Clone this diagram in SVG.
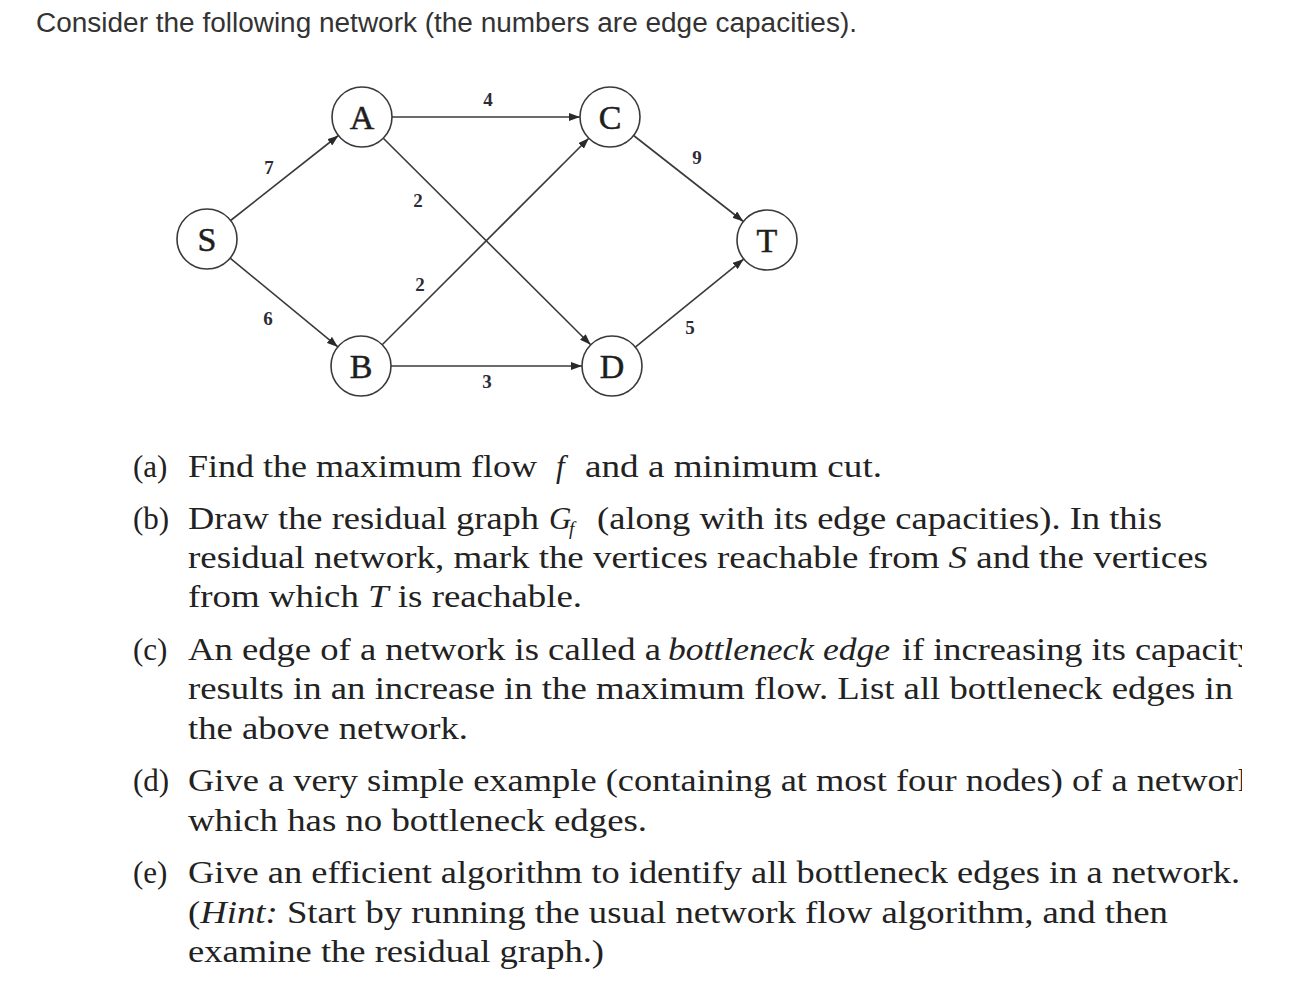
<svg xmlns="http://www.w3.org/2000/svg" width="1294" height="1008" viewBox="0 0 1294 1008">
<style>
.node ellipse{fill:#fff;stroke:#3a3a3a;stroke-width:1.6}
.node text{font-family:"Liberation Serif",serif;font-size:34px;fill:#1e1e1e;stroke:#1e1e1e;stroke-width:0.5;text-anchor:middle}
.edge{stroke:#3a3a3a;stroke-width:1.6;fill:none;marker-end:url(#arr)}
.lbl{font-family:"Liberation Serif",serif;font-weight:bold;font-size:19px;fill:#2c2c38;text-anchor:middle}
.body{font-family:"Liberation Serif",serif;font-size:31px;fill:#222}
.it{font-style:italic}
.head{font-family:"Liberation Sans",Arial,sans-serif;font-size:27px;fill:#333}
</style>
<defs>
<marker id="arr" markerUnits="userSpaceOnUse" markerWidth="11" markerHeight="8" refX="11" refY="4" orient="auto">
<path d="M0,0 L11,4 L0,8 z" fill="#2a2a2a"/>
</marker>
<clipPath id="cut"><rect x="0" y="0" width="1242" height="1008"/></clipPath>
</defs>
<rect width="1294" height="1008" fill="#fff"/>

<text class="head" x="36" y="32" textLength="821" lengthAdjust="spacingAndGlyphs">Consider the following network (the numbers are edge capacities).</text>

<g id="connectors">
<line class="edge" x1="230.6" y1="220.5" x2="338.4" y2="135.5"/>
<line class="edge" x1="230.1" y1="258.1" x2="337.9" y2="346.9"/>
<line class="edge" x1="392" y1="117" x2="580" y2="117"/>
<line class="edge" x1="391" y1="366" x2="582" y2="366"/>
<line class="edge" x1="383.3" y1="138.2" x2="590.7" y2="344.8"/>
<line class="edge" x1="382.2" y1="344.8" x2="588.8" y2="138.2"/>
<line class="edge" x1="633.6" y1="135.5" x2="743.4" y2="221.5"/>
<line class="edge" x1="635.3" y1="347.1" x2="743.7" y2="259.1"/>
<text class="lbl" x="269" y="174">7</text>
<text class="lbl" x="268" y="325">6</text>
<text class="lbl" x="488" y="106">4</text>
<text class="lbl" x="418" y="207">2</text>
<text class="lbl" x="420" y="291">2</text>
<text class="lbl" x="697" y="164">9</text>
<text class="lbl" x="690" y="334">5</text>
<text class="lbl" x="487" y="388">3</text>
</g>

<g id="node-S" class="node"><ellipse cx="207" cy="239" rx="30" ry="30"/><text x="207" y="251">S</text></g>
<g id="node-A" class="node"><ellipse cx="362" cy="117" rx="30" ry="30"/><text x="362" y="129">A</text></g>
<g id="node-B" class="node"><ellipse cx="361" cy="366" rx="30" ry="30"/><text x="361" y="378">B</text></g>
<g id="node-C" class="node"><ellipse cx="610" cy="117" rx="30" ry="30"/><text x="610" y="129">C</text></g>
<g id="node-D" class="node"><ellipse cx="612" cy="366" rx="30" ry="30"/><text x="612" y="378">D</text></g>
<g id="node-T" class="node"><ellipse cx="767" cy="240" rx="30" ry="30"/><text x="767" y="252">T</text></g>

<g id="questions" clip-path="url(#cut)">
<text class="body" x="133" y="477">(a)</text>
<text class="body" x="188" y="477" textLength="349" lengthAdjust="spacingAndGlyphs">Find the maximum flow</text>
<text class="body it" x="556" y="477">f</text>
<text class="body" x="585" y="477" textLength="297" lengthAdjust="spacingAndGlyphs">and a minimum cut.</text>

<text class="body" x="133" y="529">(b)</text>
<text class="body" x="188" y="529" textLength="351" lengthAdjust="spacingAndGlyphs">Draw the residual graph</text>
<text class="body it" x="549" y="529">G</text>
<text class="body it" x="569" y="535" style="font-size:19px">f</text>
<text class="body" x="597" y="529" textLength="565" lengthAdjust="spacingAndGlyphs">(along with its edge capacities). In this</text>
<text class="body" x="188" y="568" textLength="1020" lengthAdjust="spacingAndGlyphs">residual network, mark the vertices reachable from <tspan class="it">S</tspan> and the vertices</text>
<text class="body" x="188" y="607" textLength="394" lengthAdjust="spacingAndGlyphs">from which <tspan class="it">T</tspan> is reachable.</text>

<text class="body" x="133" y="660">(c)</text>
<text class="body" x="188" y="660" textLength="473" lengthAdjust="spacingAndGlyphs">An edge of a network is called a</text>
<text class="body it" x="668" y="660" textLength="222" lengthAdjust="spacingAndGlyphs">bottleneck edge</text>
<text class="body" x="902" y="660" textLength="354" lengthAdjust="spacingAndGlyphs">if increasing its capacity</text>
<text class="body" x="188" y="699" textLength="1045" lengthAdjust="spacingAndGlyphs">results in an increase in the maximum flow. List all bottleneck edges in</text>
<text class="body" x="188" y="739" textLength="280" lengthAdjust="spacingAndGlyphs">the above network.</text>

<text class="body" x="133" y="791">(d)</text>
<text class="body" x="188" y="791" textLength="1068" lengthAdjust="spacingAndGlyphs">Give a very simple example (containing at most four nodes) of a network</text>
<text class="body" x="188" y="831" textLength="459" lengthAdjust="spacingAndGlyphs">which has no bottleneck edges.</text>

<text class="body" x="133" y="883">(e)</text>
<text class="body" x="188" y="883" textLength="1052" lengthAdjust="spacingAndGlyphs">Give an efficient algorithm to identify all bottleneck edges in a network.</text>
<text class="body" x="188" y="923" textLength="980" lengthAdjust="spacingAndGlyphs">(<tspan class="it">Hint:</tspan> Start by running the usual network flow algorithm, and then</text>
<text class="body" x="188" y="962" textLength="416" lengthAdjust="spacingAndGlyphs">examine the residual graph.)</text>
</g>
</svg>
